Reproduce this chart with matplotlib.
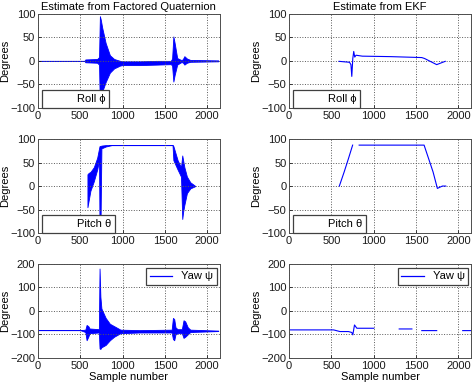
import numpy as np
import matplotlib
matplotlib.use('Agg')
import matplotlib.pyplot as plt

plt.rcParams['font.family'] = ['Liberation Sans', 'DejaVu Sans']
plt.rcParams['font.size'] = 8

nan = np.nan

# ---- Factored quaternion estimates (noisy, given as upper/lower envelopes) ----
roll_fq_s = [0, 550, 560, 700, 722, 732, 742, 760, 800, 850, 900, 970, 1000, 1200,
             1400, 1570, 1585, 1600, 1615, 1645, 1690, 1710, 1730, 1760, 1800, 2130]
roll_fq_hi = [0, 0, 3, 4, 8, 95, 88, 70, 38, 12, 4, 0, -1, -1,
              0, 0, 5, 52, 38, 6, 2, 3, 10, 5, 2, 1]
roll_fq_lo = [0, 0, -3, -4, -8, -100, -85, -65, -45, -25, -16, -10, -9, -9,
              -8, -7, -10, -44, -30, -8, -3, -3, -8, -4, -2, -1]

pitch_fq_s = [585, 600, 620, 660, 700, 722, 728, 738, 750, 800, 870, 1200, 1590,
              1600, 1650, 1690, 1705, 1715, 1730, 1760, 1800, 1860]
pitch_fq_hi = [25, 28, 30, 40, 60, 80, 85, 85, 86, 87, 87, 87, 87,
               85, 55, 40, 65, 55, 40, 20, 8, 0]
pitch_fq_lo = [-45, -30, -10, 10, 35, 55, -100, -100, 80, 84, 87, 87, 87,
               55, 35, 20, -70, -55, -40, -15, -5, 0]

yaw_fq_s = [0, 500, 560, 575, 595, 610, 720, 728, 738, 750, 800, 850, 900, 975,
            1200, 1580, 1595, 1610, 1625, 1650, 1700, 1720, 1740, 1770, 1800, 2130]
yaw_fq_hi = [-82, -82, -80, -60, -65, -75, -78, 180, 60, 10, -30, -55, -65, -80,
             -82, -80, -30, -35, -70, -78, -78, -40, -45, -70, -80, -84]
yaw_fq_lo = [-82, -82, -90, -125, -110, -95, -92, -160, -162, -155, -145, -125, -110, -95,
             -92, -92, -120, -125, -100, -95, -95, -115, -110, -100, -90, -86]

# ---- EKF estimates ----
roll_ekf_s = [590, 650, 713, 730, 740, 752, 763, 775, 790, 865, 1200, 1567, 1600,
              1743, 1800, 1844]
roll_ekf = [-1, -2, -3, -8, -33, 5, 20, 8, 12, 10, 9, 7, 5, -8, -4, -1]

pitch_ekf_s = [593, 650, 700, 750, 790, 827, 1200, 1594, 1700, 1751, 1810, 1850]
pitch_ekf = [0, 30, 58, 87, nan, 87, 87, 87, 30, -5, 0, 0]

yaw_ekf_s = [0, 525, 600, 700, 740, 752, 772, 800, 1000, 1150, 1300, 1450, 1500,
             1567, 1743, 1900, 2050, 2150]
yaw_ekf = [-81, -81, -88, -88, -92, -102, -60, -74, -74, nan, -77, -77, nan,
           -84, -84, nan, -84, -84]

xticks = [0, 500, 1000, 1500, 2000]
angle_ticks = [-100, -50, 0, 50, 100]
yaw_ticks = [-200, -100, 0, 100, 200]

fig = plt.figure(figsize=(4.74, 3.84), dpi=100)
lefts = [0.08, 0.61]
bottoms = [0.719, 0.393, 0.068]
w, h = 0.384, 0.245

axes = [[fig.add_axes([l, b, w, h]) for l in lefts] for b in bottoms]


def style(ax, yticks, ylim):
    ax.set_xlim(0, 2150)
    ax.set_ylim(*ylim)
    ax.set_xticks(xticks)
    ax.set_yticks(yticks)
    ax.tick_params(direction='in', length=2.5, width=0.6, pad=2, labelsize=8, colors='0.1')
    ax.grid(True, linestyle=':', color='0.35', linewidth=0.7)
    for sp in ax.spines.values():
        sp.set_color('0.3')
        sp.set_linewidth(0.7)
    ax.set_ylabel('Degrees', labelpad=0)


def add_legend(ax, label, loc, anchor, show_handle):
    line, = ax.plot([], [], color='b', lw=0.9, label=label)
    leg = ax.legend(handles=[line], loc=loc, bbox_to_anchor=anchor, fancybox=False,
                    framealpha=1, edgecolor='0.25', borderaxespad=0, handlelength=2.0,
                    borderpad=0.35, fontsize=8)
    leg.get_frame().set_linewidth(0.9)
    if not show_handle:
        leg.legend_handles[0].set_visible(False)


# Roll
ax = axes[0][0]
ax.fill_between(roll_fq_s, roll_fq_lo, roll_fq_hi, color='b', lw=0.6)
style(ax, angle_ticks, (-100, 100))
ax.set_title('Estimate from Factored Quaternion', fontsize=8, pad=3)
add_legend(ax, 'Roll ϕ', 'lower left', (0.02, 0.0), False)

ax = axes[0][1]
ax.plot(roll_ekf_s, roll_ekf, color='b', lw=0.8)
style(ax, angle_ticks, (-100, 100))
ax.set_title('Estimate from EKF', fontsize=8, pad=3)
add_legend(ax, 'Roll ϕ', 'lower left', (0.02, 0.0), False)

# Pitch
ax = axes[1][0]
ax.fill_between(pitch_fq_s, pitch_fq_lo, pitch_fq_hi, color='b', lw=0.6)
style(ax, angle_ticks, (-100, 100))
add_legend(ax, 'Pitch θ', 'lower left', (0.02, 0.0), False)

ax = axes[1][1]
ax.plot(pitch_ekf_s, pitch_ekf, color='b', lw=0.8)
style(ax, angle_ticks, (-100, 100))
add_legend(ax, 'Pitch θ', 'lower left', (0.02, 0.0), False)

# Yaw
ax = axes[2][0]
ax.fill_between(yaw_fq_s, yaw_fq_lo, yaw_fq_hi, color='b', lw=0.6)
style(ax, yaw_ticks, (-200, 200))
ax.set_xlabel('Sample number', labelpad=1)
add_legend(ax, 'Yaw ψ', 'upper right', (0.985, 0.96), True)

ax = axes[2][1]
ax.plot(yaw_ekf_s, yaw_ekf, color='b', lw=0.8)
style(ax, yaw_ticks, (-200, 200))
ax.set_xlabel('Sample number', labelpad=1)
add_legend(ax, 'Yaw ψ', 'upper right', (0.985, 0.96), True)

fig.savefig('out.png', dpi=100)
